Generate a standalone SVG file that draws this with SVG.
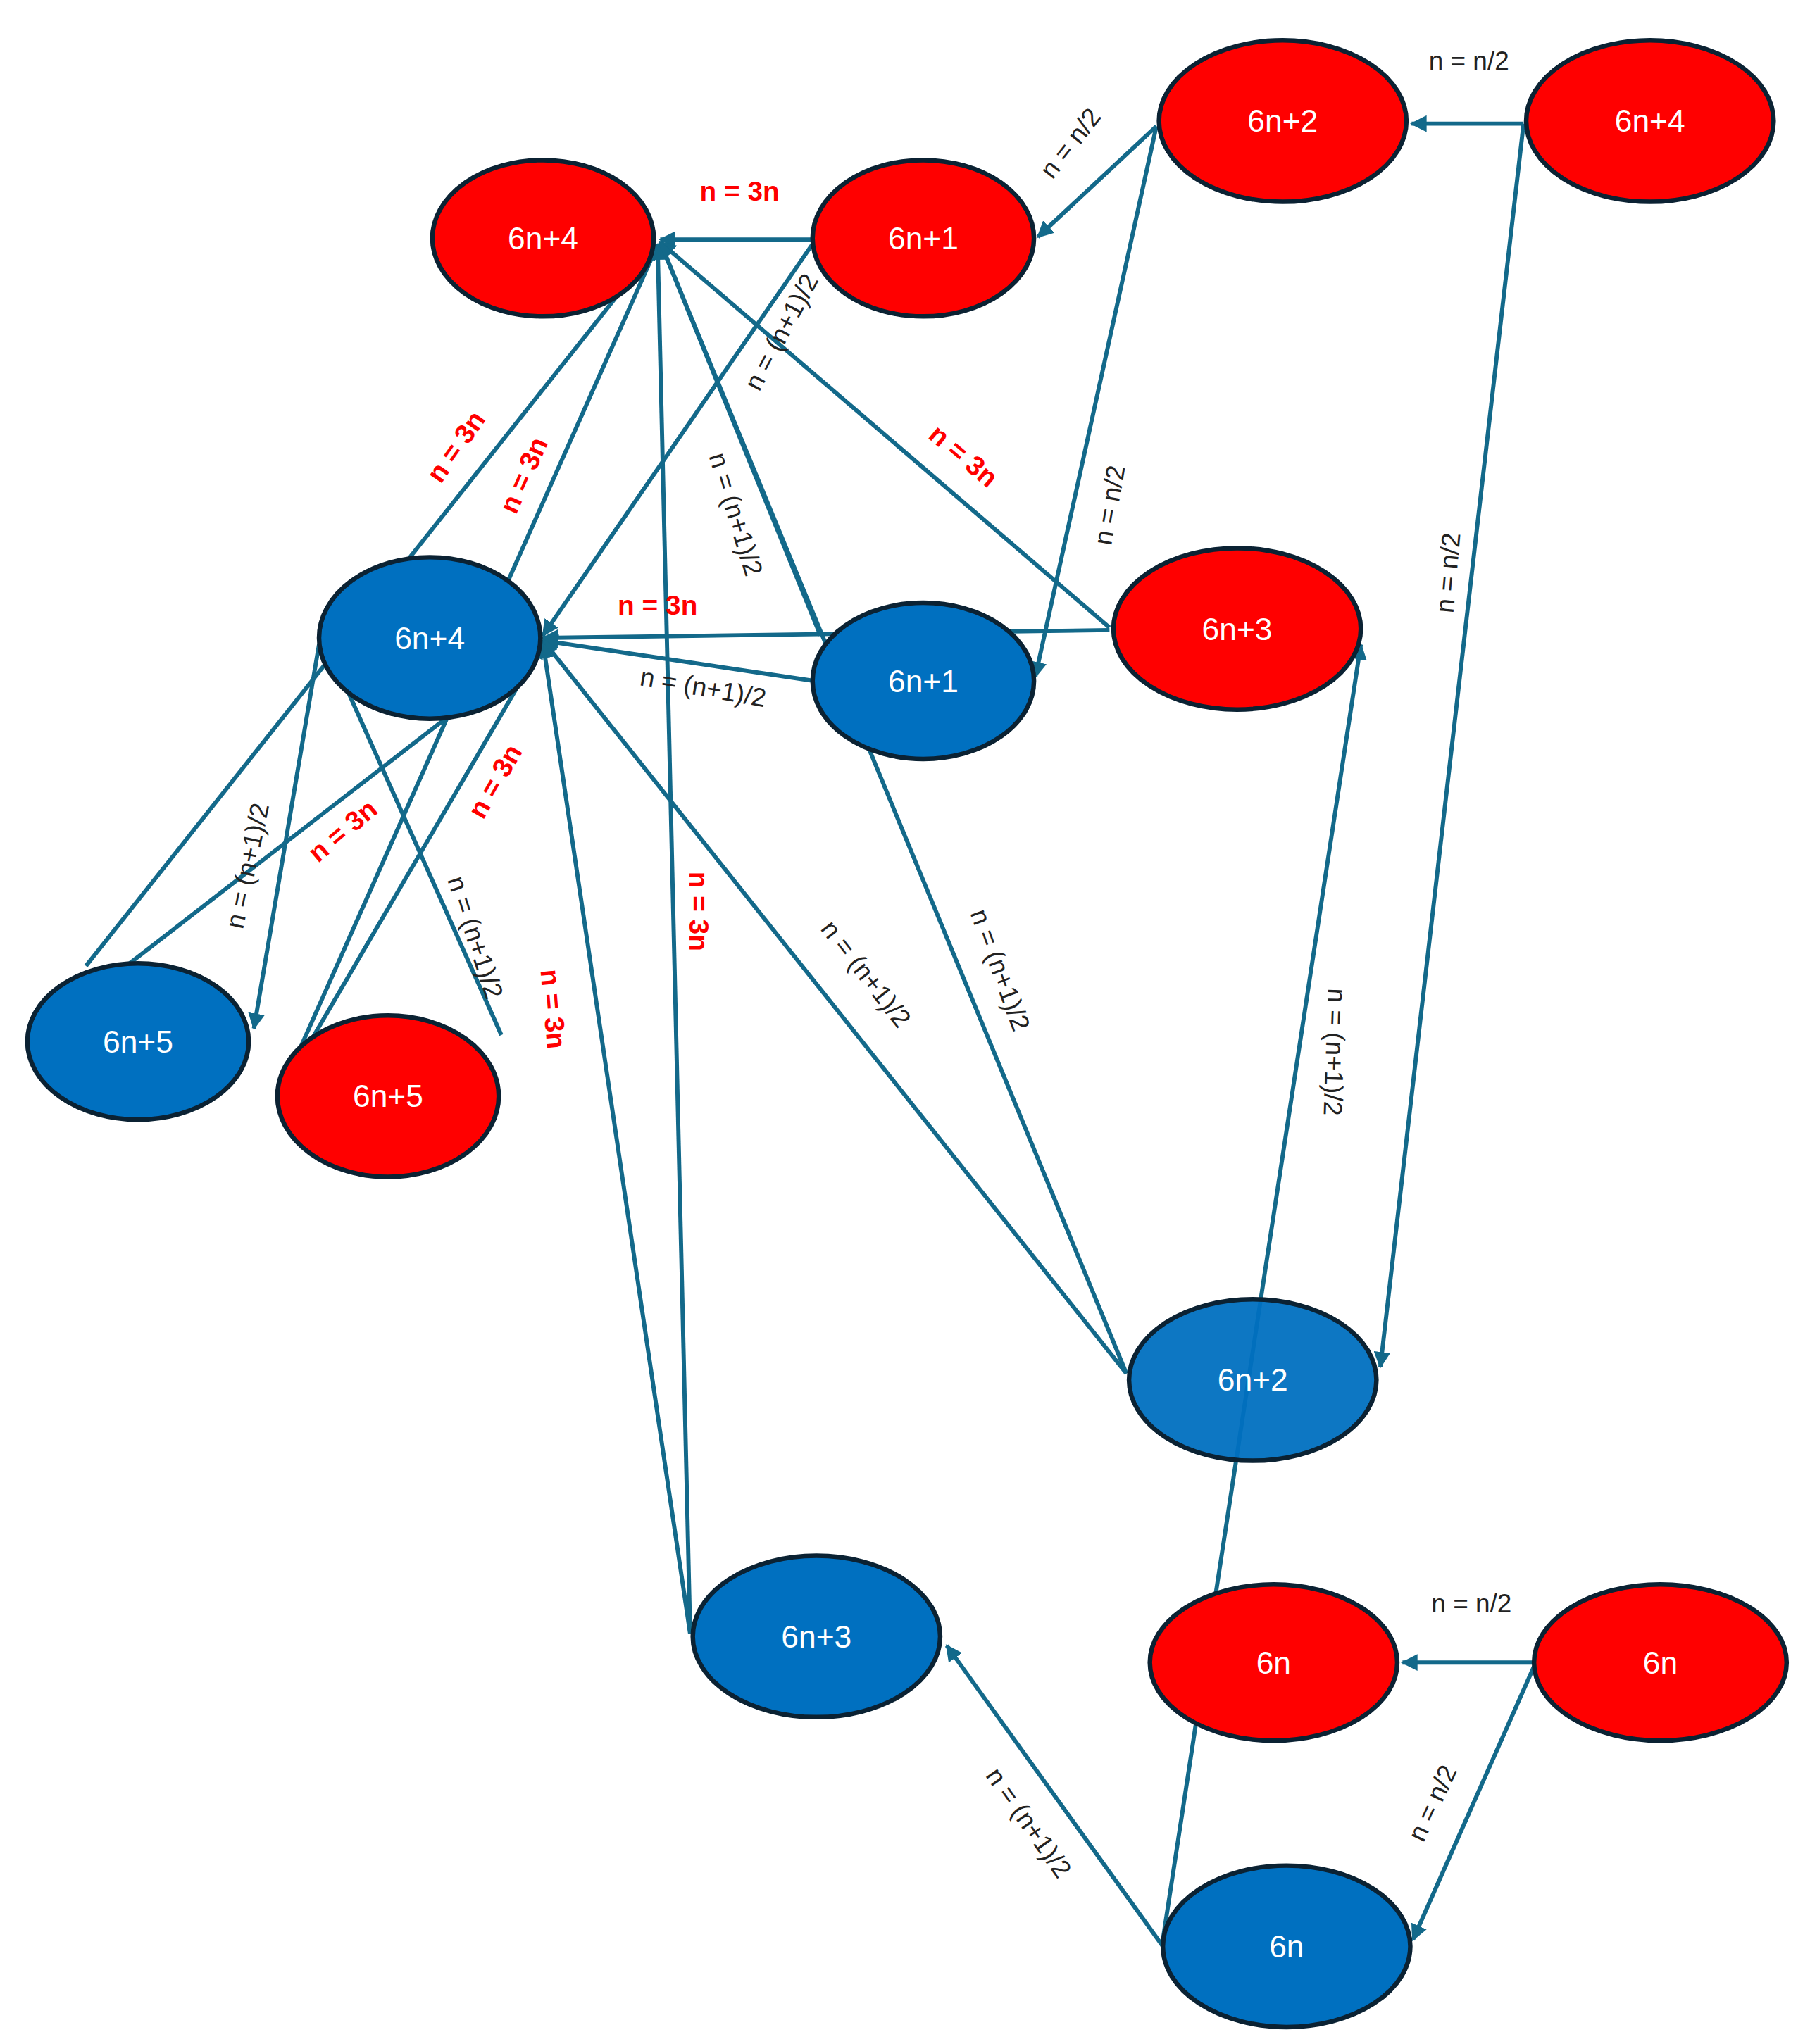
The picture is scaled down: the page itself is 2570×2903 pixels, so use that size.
<svg xmlns="http://www.w3.org/2000/svg" width="2570" height="2903" viewBox="0 0 2570 2903">
<defs>
<marker id="ah" viewBox="0 0 10 10" refX="9" refY="5" markerWidth="4" markerHeight="4" orient="auto"><path d="M0,0 L10,5 L0,10 z" fill="#13698a"/></marker>
</defs>
<style>
.r{fill:#ff0000;stroke:#0b2233;stroke-width:3.5}
.b{fill:#0070c0;stroke:#0b2233;stroke-width:3.5}
.t{font-family:"Liberation Sans",Arial,sans-serif;font-size:24px;fill:#fff;text-anchor:middle;dominant-baseline:central}
.e{stroke:#13698a;stroke-width:3.2;fill:none}
.a{marker-end:url(#ah)}
.l{font-family:"Liberation Sans",Arial,sans-serif;font-size:20px;fill:#222;text-anchor:middle;dominant-baseline:central}
.lr{font-family:"Liberation Sans",Arial,sans-serif;font-size:21px;font-weight:bold;fill:#ff0000;text-anchor:middle;dominant-baseline:central}
</style>
<rect width="2570" height="2903" fill="#fff"/>
<g transform="scale(1.849)">
<g id="connectors">
<line class="e a" x1="1170" y1="95" x2="1084" y2="95"/>
<line class="e a" x1="888" y1="97" x2="797" y2="182"/>
<line class="e a" x1="625" y1="184" x2="507" y2="184"/>
<line class="e a" x1="888" y1="97" x2="795" y2="520"/>
<line class="e a" x1="1170" y1="95" x2="1060" y2="1050"/>
<line class="e a" x1="625" y1="186" x2="417" y2="488"/>
<line class="e a" x1="852" y1="484" x2="417" y2="490"/>
<line class="e a" x1="852" y1="482" x2="507" y2="186"/>
<line class="e a" x1="625" y1="523" x2="417" y2="492"/>
<line class="e a" x1="630" y1="488" x2="507" y2="186"/>
<line class="e a" x1="865" y1="1055" x2="507" y2="186"/>
<line class="e a" x1="865" y1="1055" x2="417" y2="492"/>
<line class="e a" x1="530" y1="1255" x2="505" y2="188"/>
<line class="e a" x1="530" y1="1255" x2="417" y2="494"/>
<line class="e a" x1="66" y1="742" x2="505" y2="188"/>
<line class="e a" x1="215" y1="840" x2="505" y2="188"/>
<line class="e a" x1="215" y1="840" x2="417" y2="494"/>
<line class="e a" x1="22" y1="800" x2="417" y2="494"/>
<line class="e a" x1="245" y1="495" x2="195" y2="790"/>
<line class="e" x1="260" y1="515" x2="385" y2="795"/>
<line class="e a" x1="893" y1="1495" x2="727" y2="1264"/>
<line class="e a" x1="893" y1="1490" x2="1045" y2="495"/>
<line class="e a" x1="1178" y1="1277" x2="1077" y2="1277"/>
<line class="e a" x1="1178" y1="1280" x2="1085" y2="1490"/>
<text class="l" x="1128" y="47">n = n/2</text>
<text class="l" transform="translate(822,110) rotate(-52)">n = n/2</text>
<text class="lr" x="568" y="147">n = 3n</text>
<text class="l" transform="translate(852,388) rotate(-80)">n = n/2</text>
<text class="l" transform="translate(1112,440) rotate(-85)">n = n/2</text>
<text class="l" transform="translate(600,255) rotate(-62)">n = (n+1)/2</text>
<text class="lr" x="505" y="465">n = 3n</text>
<text class="lr" transform="translate(740,350) rotate(40)">n = 3n</text>
<text class="l" transform="translate(540,528) rotate(10)">n = (n+1)/2</text>
<text class="l" transform="translate(565,395) rotate(73)">n = (n+1)/2</text>
<text class="l" transform="translate(768,745) rotate(70)">n = (n+1)/2</text>
<text class="l" transform="translate(665,748) rotate(52)">n = (n+1)/2</text>
<text class="lr" transform="translate(537,700) rotate(90)">n = 3n</text>
<text class="lr" transform="translate(425,775) rotate(85)">n = 3n</text>
<text class="lr" transform="translate(350,343) rotate(-55)">n = 3n</text>
<text class="lr" transform="translate(402,365) rotate(-66)">n = 3n</text>
<text class="lr" transform="translate(380,600) rotate(-60)">n = 3n</text>
<text class="lr" transform="translate(263,638) rotate(-40)">n = 3n</text>
<text class="l" transform="translate(190,665) rotate(-78)">n = (n+1)/2</text>
<text class="l" transform="translate(365,720) rotate(72)">n = (n+1)/2</text>
<text class="l" transform="translate(790,1400) rotate(55)">n = (n+1)/2</text>
<text class="l" transform="translate(1025,808) rotate(92)">n = (n+1)/2</text>
<text class="l" x="1130" y="1232">n = n/2</text>
<text class="l" transform="translate(1100,1385) rotate(-65)">n = n/2</text>
</g>
<g id="n1"><ellipse class="r" cx="417" cy="183" rx="85" ry="60"/><text class="t" x="417" y="183">6n+4</text></g>
<g id="n2"><ellipse class="r" cx="709" cy="183" rx="85" ry="60"/><text class="t" x="709" y="183">6n+1</text></g>
<g id="n3"><ellipse class="r" cx="985" cy="93" rx="95" ry="62"/><text class="t" x="985" y="93">6n+2</text></g>
<g id="n4"><ellipse class="r" cx="1267" cy="93" rx="95" ry="62"/><text class="t" x="1267" y="93">6n+4</text></g>
<g id="n5"><ellipse class="b" cx="330" cy="490" rx="85" ry="62"/><text class="t" x="330" y="490">6n+4</text></g>
<g id="n6"><ellipse class="b" cx="709" cy="523" rx="85" ry="60"/><text class="t" x="709" y="523">6n+1</text></g>
<g id="n7"><ellipse class="r" cx="950" cy="483" rx="95" ry="62"/><text class="t" x="950" y="483">6n+3</text></g>
<g id="n8"><ellipse class="b" cx="106" cy="800" rx="85" ry="60"/><text class="t" x="106" y="800">6n+5</text></g>
<g id="n9"><ellipse class="r" cx="298" cy="842" rx="85" ry="62"/><text class="t" x="298" y="842">6n+5</text></g>
<g id="n10"><ellipse class="b" cx="962" cy="1060" rx="95" ry="62" fill-opacity="0.95"/><text class="t" x="962" y="1060">6n+2</text></g>
<g id="n11"><ellipse class="b" cx="627" cy="1257" rx="95" ry="62"/><text class="t" x="627" y="1257">6n+3</text></g>
<g id="n12"><ellipse class="r" cx="978" cy="1277" rx="95" ry="60"/><text class="t" x="978" y="1277">6n</text></g>
<g id="n13"><ellipse class="r" cx="1275" cy="1277" rx="97" ry="60"/><text class="t" x="1275" y="1277">6n</text></g>
<g id="n14"><ellipse class="b" cx="988" cy="1495" rx="95" ry="62"/><text class="t" x="988" y="1495">6n</text></g>
</g>
</svg>
